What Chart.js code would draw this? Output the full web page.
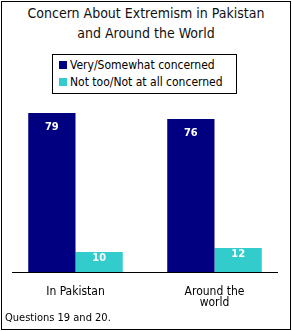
<!DOCTYPE html>
<html>
<head>
<meta charset="utf-8">
<script src="https://cdn.jsdelivr.net/npm/chart.js@4"></script>
<style>
  body { margin: 0; background: #fff; font-family: Tahoma, "DejaVu Sans Condensed", "DejaVu Sans", sans-serif; }
  #wrap { position: relative; width: 292px; height: 331px; }
  #frame { position: absolute; left: 1px; top: 1px; width: 290px; height: 329px; border: 1px solid #000; box-sizing: border-box; }
  #title { position: absolute; left: 0; top: 3px; width: 292px; text-align: center; font-size: 14px; line-height: 20px; color: #111; }
  #legend { position: absolute; left: 52px; top: 54px; width: 185px; height: 40px; border: 1px solid #000; box-sizing: border-box; font-size: 12px; }
  .item { position: absolute; left: 6px; height: 17px; line-height: 17px; white-space: nowrap; }
  .item span { display: inline-block; width: 8px; height: 8px; margin-right: 3px; }
  #note { position: absolute; left: 5px; top: 310px; font-size: 11px; line-height: 16px; }
  canvas { position: absolute; left: 0; top: 0; }
</style>
</head>
<body>
<div id="wrap">
  <div id="frame"></div>
  <div id="title">Concern About Extremism in Pakistan<br>and Around the World</div>
  <div id="legend"></div>
  <canvas id="chart" width="292" height="331"></canvas>
  <div id="note">Questions 19 and 20.</div>
</div>
<script>
const categories = [["In Pakistan"], ["Around the", "world"]];
const seriesNames = ["Very/Somewhat concerned", "Not too/Not at all concerned"];
const concerned = [79, 76];
const notConcerned = [10, 12];
const colors = ["#000080", "#33CCCC"];

// legend in html (boxed, one row per series)
const legend = document.getElementById("legend");
seriesNames.forEach((name, i) => {
  const row = document.createElement("div");
  row.className = "item";
  row.style.top = (2 + i * 17) + "px";
  row.innerHTML = `<span style="background:${colors[i]}"></span>${name}`;
  legend.appendChild(row);
});

// white value labels near the top of each bar
const valueLabels = {
  id: "valueLabels",
  afterDatasetsDraw(chart) {
    const ctx = chart.ctx;
    ctx.save();
    ctx.fillStyle = "#fff";
    ctx.font = "bold 11px Tahoma, 'DejaVu Sans Condensed', 'DejaVu Sans', sans-serif";
    ctx.textAlign = "center";
    ctx.textBaseline = "middle";
    chart.data.datasets.forEach((ds, di) => {
      const offset = di === 0 ? 14 : 6;
      chart.getDatasetMeta(di).data.forEach((bar, i) => {
        ctx.fillText(ds.data[i], bar.x, bar.y + offset);
      });
    });
    ctx.restore();
  }
};

// baseline under the bars
const baseline = {
  id: "baseline",
  afterDatasetsDraw(chart) {
    const { ctx, chartArea } = chart;
    const y = Math.round(chart.scales.y.getPixelForValue(0));
    ctx.save();
    ctx.strokeStyle = "#000";
    ctx.lineWidth = 1;
    ctx.beginPath();
    ctx.moveTo(chartArea.left + 6, y + 0.5);
    ctx.lineTo(chartArea.right - 6, y + 0.5);
    ctx.stroke();
    ctx.restore();
  }
};

new Chart(document.getElementById("chart"), {
  type: "bar",
  data: {
    labels: categories,
    datasets: [
      { label: seriesNames[0], data: concerned, backgroundColor: colors[0] },
      { label: seriesNames[1], data: notConcerned, backgroundColor: colors[1] }
    ]
  },
  options: {
    responsive: false,
    animation: false,
    layout: { padding: { left: 6, right: 8, top: 111, bottom: 8 } },
    categoryPercentage: 0.68,
    barPercentage: 1.0,
    plugins: {
      legend: { display: false },
      tooltip: { enabled: false }
    },
    scales: {
      x: {
        grid: { display: false, drawTicks: false },
        border: { display: false },
        ticks: {
          color: "#000",
          padding: 14,
          maxRotation: 0,
          font: { family: "Tahoma, 'DejaVu Sans Condensed', 'DejaVu Sans', sans-serif", size: 12, lineHeight: 0.95 }
        }
      },
      y: { display: false, min: 0, max: 80 }
    }
  },
  plugins: [valueLabels, baseline]
});
</script>
</body>
</html>
